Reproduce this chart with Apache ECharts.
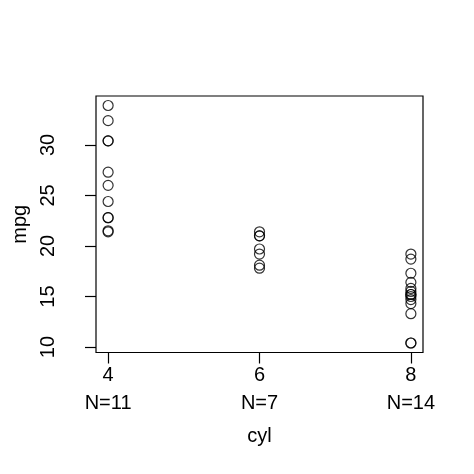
<!DOCTYPE html>
<html>
<head>
<meta charset="utf-8">
<script src="https://cdn.jsdelivr.net/npm/echarts@6/dist/echarts.min.js"></script>
<style>
html,body{margin:0;padding:0;background:#fff;}
#chart{width:474px;height:474px;}
</style>
</head>
<body>
<div id="chart"></div>
<script>
// mtcars: mpg by number of cylinders
const cylLevels = [4, 6, 8];
const mpgCyl4 = [22.8, 24.4, 22.8, 32.4, 30.4, 33.9, 21.5, 27.3, 26.0, 30.4, 21.4];
const mpgCyl6 = [21.0, 21.0, 21.4, 18.1, 19.2, 17.8, 19.7];
const mpgCyl8 = [18.7, 14.3, 16.4, 17.3, 15.2, 10.4, 10.4, 14.7, 15.5, 15.2, 13.3, 19.2, 15.8, 15.0];
const yTicks = [10, 15, 20, 25, 30];
const xName = 'cyl';
const yName = 'mpg';

const groups = [mpgCyl4, mpgCyl6, mpgCyl8];
const counts = {};
const points = [];
cylLevels.forEach((c, i) => {
  counts[c] = groups[i].length;
  groups[i].forEach(v => points.push([c, v]));
});

const font = 'Liberation Sans, Arial, Helvetica, sans-serif';
const fs = 20;

const chart = echarts.init(document.getElementById('chart'), null, {renderer: 'canvas'});
chart.setOption({
  backgroundColor: '#fff',
  animation: false,
  grid: {
    left: 96, top: 96, width: 327, height: 256.5,
    show: true, borderColor: '#000', borderWidth: 1.2, backgroundColor: 'transparent'
  },
  xAxis: {
    type: 'value',
    min: 3.84, max: 8.16,
    name: xName,
    nameLocation: 'middle',
    nameGap: 74,
    nameTextStyle: {color: '#000', fontSize: fs, fontFamily: font},
    splitLine: {show: false},
    axisLine: {show: false},
    axisTick: {show: true, length: 11, lineStyle: {color: '#000', width: 1.2}, customValues: cylLevels},
    axisLabel: {
      customValues: cylLevels,
      color: '#000', fontSize: fs, fontFamily: font, lineHeight: 28, margin: 9,
      formatter: v => v + '\nN=' + counts[v]
    }
  },
  yAxis: {
    type: 'value',
    min: 9.46, max: 34.84,
    name: yName,
    nameLocation: 'middle',
    nameRotate: 90,
    nameGap: 66,
    nameTextStyle: {color: '#000', fontSize: fs, fontFamily: font},
    splitLine: {show: false},
    axisLine: {show: false},
    axisTick: {show: true, length: 11, lineStyle: {color: '#000', width: 1.2}, customValues: yTicks},
    axisLabel: {
      customValues: yTicks,
      rotate: 90,
      color: '#000', fontSize: fs, fontFamily: font, margin: 38
    }
  },
  series: [{
    type: 'scatter',
    data: points,
    symbol: 'circle',
    symbolSize: 10,
    itemStyle: {color: 'rgba(0,0,0,0)', borderColor: '#000', borderWidth: 1.2},
    emphasis: {disabled: true}
  }]
});
</script>
</body>
</html>
